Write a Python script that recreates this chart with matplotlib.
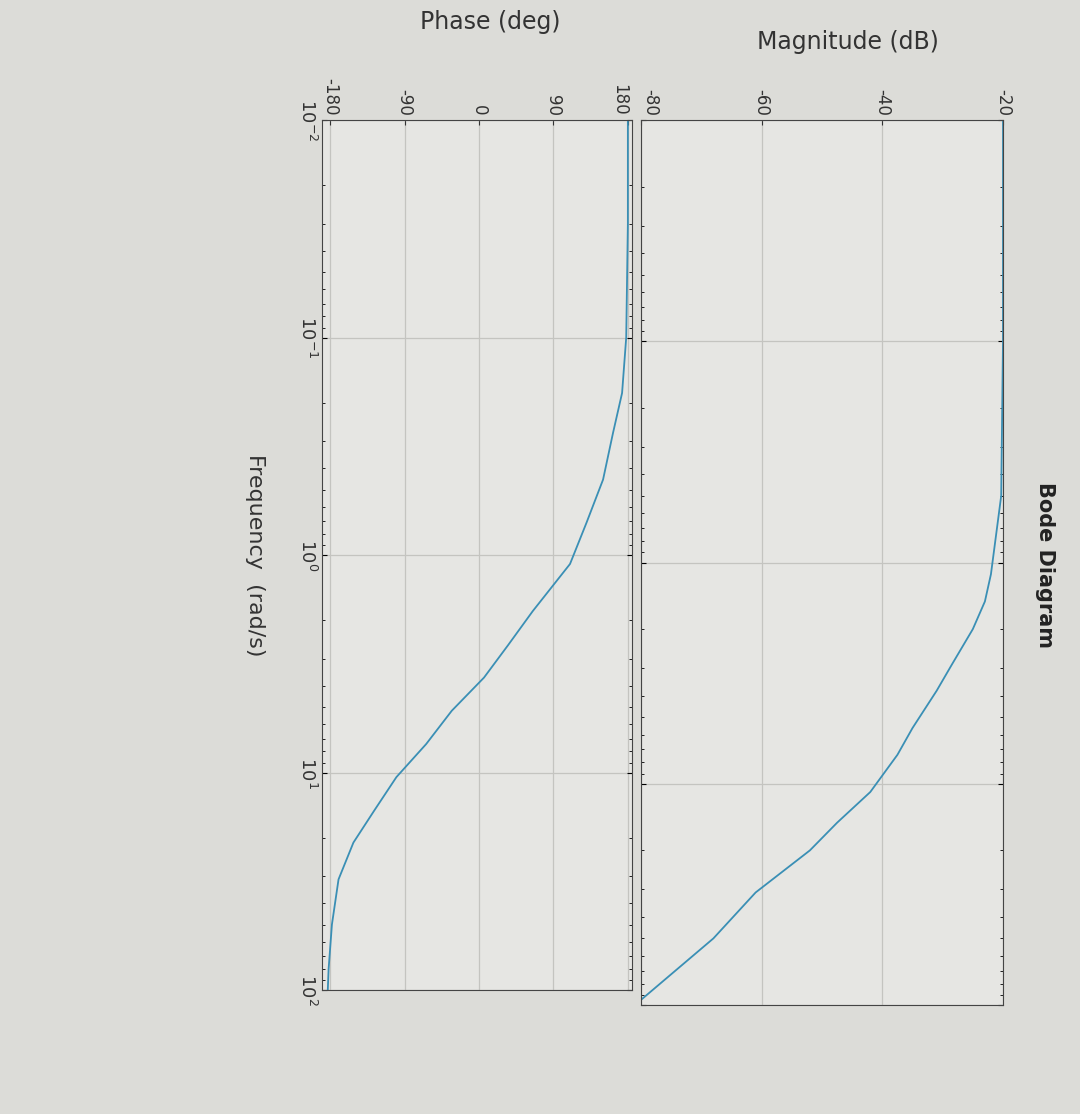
import matplotlib
matplotlib.use("Agg")
import matplotlib.pyplot as plt
import numpy as np
plt.rcParams["axes.unicode_minus"] = False

mag_freq = [0.01, 0.1, 0.5, 1.13, 1.5, 2.0, 2.9, 3.8, 5.6, 7.4, 10.9, 15, 20, 31, 50, 100]
mag_db = [-20, -20, -20.3, -22, -23, -25, -28.5, -31, -35, -37.5, -42, -47.5, -52, -61, -68, -81]
ph_freq = [0.01, 0.03, 0.1, 0.18, 0.275, 0.45, 0.71, 1.1, 1.81, 2.6, 3.66, 5.2, 7.4, 10.5, 15, 21, 31, 50, 80, 100]
ph_deg = [180, 180, 178, 173, 162, 150, 130, 110, 65, 35, 6, -33, -64, -100, -127, -152, -170, -178, -182, -183]
mag_ticks = [-80, -60, -40, -20]
ph_ticks = [-180, -90, 0, 90, 180]
freq_ticks = [0.01, 0.1, 1, 10, 100]
freq_labels = ["$10^{-2}$", "$10^{-1}$", "$10^{0}$", "$10^{1}$", "$10^{2}$"]

W, H = 1080, 1114
bg = "#dcdcd8"
fig = plt.figure(figsize=(W/100, H/100), dpi=100, facecolor=bg)
def rect(x0, x1, y0, y1):
    return [x0/W, 1-y1/H, (x1-x0)/W, (y1-y0)/H]

axm = fig.add_axes(rect(641, 1003, 120, 1005))
axp = fig.add_axes(rect(322, 632, 120, 990))
line = "#3a8fb5"
for ax in (axm, axp):
    ax.set_facecolor("#e6e6e3")
    ax.set_yscale("log")
    ax.set_ylim(100, 0.01)
    ax.grid(True, which="major", color="#c4c4c0", lw=0.9)
    ax.xaxis.tick_top()
    ax.tick_params(axis="x", labelsize=12, labelrotation=-90, colors="#333", direction="in", pad=3)
    ax.tick_params(axis="y", which="both", direction="in", right=True)
    for s in ax.spines.values():
        s.set_color("#444")

axm.plot(mag_db, mag_freq, color=line, lw=1.3)
axm.set_xlim(-80, -20)
axm.set_xticks(mag_ticks)
axm.set_yticks(freq_ticks)
axm.set_yticklabels([])
axm.tick_params(axis="y", which="minor", labelleft=False)
axm.set_xticklabels(["-80", "-60", "-40", "-20"])
for lab in axm.get_xticklabels():
    lab.set_va("bottom")
axm.get_xticklabels()[0].set_ha("left")

axp.plot(ph_deg, ph_freq, color=line, lw=1.3)
axp.set_xlim(-190, 185)
axp.set_xticks(ph_ticks)
axp.set_xticklabels(["-180", "-90", "0", "90", "180"])
axp.get_xticklabels()[-1].set_ha("right")
axp.set_yticks(freq_ticks)
axp.set_yticklabels(freq_labels, rotation=-90, fontsize=13, color="#333", va="center")

fig.text(848/W, 1-42/H, "Magnitude (dB)", fontsize=17, ha="center", va="center", color="#333")
fig.text(490/W, 1-22/H, "Phase (deg)", fontsize=17, ha="center", va="center", color="#333")
fig.text(1045/W, 1-565/H, "Bode Diagram", fontsize=15, fontweight="bold", rotation=-90, ha="center", va="center", color="#222")
fig.text(255/W, 1-555/H, "Frequency  (rad/s)", fontsize=16, rotation=-90, ha="center", va="center", color="#333")
fig.savefig("out.png", dpi=100, facecolor=bg)
